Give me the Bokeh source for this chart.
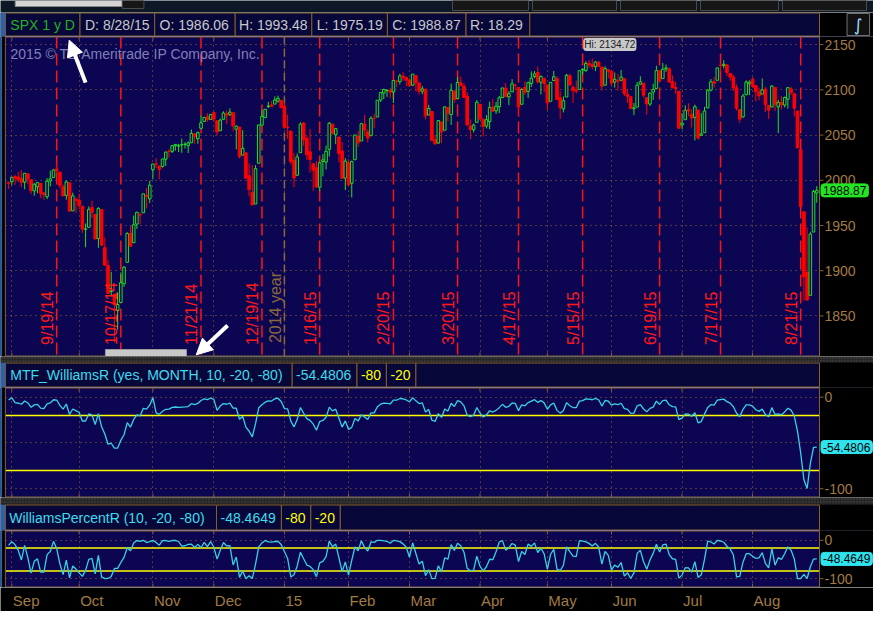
import math
from bokeh.plotting import figure
from bokeh.layouts import column
from bokeh.models import Range1d, ColumnDataSource, Label, Span, Arrow, NormalHead, FixedTicker, Grid
from bokeh.core.properties import value
from bokeh.embed import file_html
from bokeh.resources import INLINE

# ---------------- data (SPX daily, 8/28/14 .. 8/28/15) ----------------
OPEN = [1997.4, 1998.5,
    2004.1, 2003.6, 2001.7, 1998.0, 2007.2, 2000.7, 1988.4, 1992.9, 1996.7, 1986.0, 1981.9, 1999.3, 2003.1, 2012.7, 2009.1, 1992.8, 1983.3, 1997.3, 1966.2, 1978.9, 1978.2,
    1971.4, 1945.8, 1948.1, 1970.0, 1962.4, 1935.6, 1967.7, 1925.6, 1905.7, 1877.1, 1874.2, 1856.0, 1864.9, 1885.6, 1909.4, 1941.3, 1931.0, 1951.6, 1962.0, 1964.1, 1983.3, 1979.5, 2011.7,
    2018.2, 2015.8, 2015.3, 2023.3, 2032.0, 2032.0, 2038.2, 2037.8, 2039.2, 2039.7, 2038.3, 2041.5, 2051.2, 2045.9, 2057.5, 2065.1, 2070.2, 2067.4, 2074.8,
    2065.8, 2054.8, 2067.5, 2073.6, 2072.8, 2074.8, 2056.6, 2058.9, 2027.9, 2030.4, 2005.0, 1986.7, 1973.8, 2018.9, 2061.0, 2069.3, 2081.5, 2083.3, 2084.3, 2087.6, 2088.5, 2082.1,
    2058.9, 2054.4, 2022.2, 2005.6, 2030.6, 2063.5, 2046.1, 2031.6, 2018.4, 2013.8, 1992.3, 2020.8, 2020.2, 2034.3, 2062.0, 2050.4, 2047.9, 2032.3, 2002.5, 2019.4,
    1996.7, 2022.7, 2048.9, 2043.5, 2062.3, 2053.5, 2049.4, 2068.6, 2070.0, 2088.8, 2096.5, 2099.2, 2099.3, 2097.7, 2109.8, 2109.1, 2115.3, 2113.9, 2110.9,
    2105.2, 2115.8, 2107.7, 2098.5, 2100.9, 2072.2, 2076.1, 2044.7, 2041.1, 2064.6, 2055.4, 2080.6, 2072.8, 2098.7, 2090.3, 2107.9, 2103.9, 2093.1, 2059.9, 2055.8, 2064.1, 2084.1,
    2067.6, 2060.0, 2064.9, 2080.8, 2076.9, 2081.3, 2091.5, 2102.0, 2092.3, 2097.8, 2105.0, 2102.6, 2084.1, 2102.8, 2098.3, 2107.2, 2114.8, 2119.3, 2108.4, 2112.5, 2105.5,
    2087.4, 2110.2, 2112.6, 2091.3, 2079.0, 2092.1, 2115.6, 2102.9, 2099.6, 2100.4, 2122.1, 2121.3, 2129.5, 2127.8, 2125.6, 2130.4, 2125.3, 2105.1, 2122.3, 2120.7,
    2108.6, 2110.4, 2110.6, 2112.4, 2095.1, 2092.3, 2079.1, 2081.0, 2106.2, 2107.4, 2091.3, 2084.3, 2097.4, 2101.6, 2121.1, 2112.5, 2123.2, 2123.2, 2109.1, 2102.6, 2098.6, 2061.2,
    2067.0, 2078.0, 2073.0, 2069.5, 2077.7, 2049.7, 2052.7, 2080.0, 2099.7, 2109.0, 2110.6, 2126.8, 2126.9, 2127.6, 2118.2, 2114.2, 2102.2, 2078.2, 2070.1, 2094.7, 2106.8, 2111.6,
    2104.5, 2097.7, 2095.3, 2100.9, 2082.6, 2081.0, 2102.7, 2081.1, 2086.2, 2083.2, 2089.7, 2101.1, 2095.7, 2076.6, 2034.1, 1965.2, 1898.1, 1872.8, 1942.8, 1986.06]

HIGH = [1998.6, 2003.4,
    2006.1, 2009.3, 2011.2, 2007.7, 2007.2, 2001.0, 1996.7, 1997.7, 1996.7, 1987.2, 2002.3, 2010.7, 2012.3, 2019.3, 2009.1, 1995.4, 1999.8, 1997.3, 1986.4, 1981.3, 1985.2,
    1971.4, 1952.3, 1971.2, 1977.4, 1962.4, 1970.4, 1967.7, 1936.9, 1912.1, 1898.7, 1874.2, 1876.0, 1898.2, 1905.0, 1942.5, 1949.3, 1961.0, 1965.3, 1964.6, 1985.1, 1991.4, 1999.4, 2018.2,
    2024.5, 2015.9, 2023.8, 2031.6, 2034.3, 2038.7, 2039.7, 2040.3, 2046.2, 2042.2, 2043.1, 2056.1, 2052.1, 2053.8, 2071.5, 2070.2, 2074.2, 2073.3, 2075.8,
    2065.8, 2068.2, 2076.3, 2077.3, 2079.5, 2075.0, 2060.6, 2058.9, 2055.5, 2030.4, 2018.7, 2016.9, 2016.8, 2061.2, 2077.9, 2078.8, 2086.7, 2087.6, 2092.7, 2093.6, 2088.5, 2085.7,
    2072.4, 2054.4, 2030.3, 2029.6, 2064.1, 2064.4, 2049.3, 2056.9, 2018.4, 2021.4, 2020.5, 2028.9, 2038.3, 2064.6, 2062.8, 2057.6, 2047.9, 2042.5, 2024.6, 2023.3,
    2021.7, 2050.3, 2054.7, 2063.6, 2072.4, 2056.2, 2070.9, 2073.5, 2088.5, 2097.0, 2101.3, 2100.2, 2102.1, 2110.6, 2110.1, 2117.9, 2119.6, 2113.9, 2112.7,
    2117.5, 2115.8, 2107.7, 2104.3, 2100.9, 2083.5, 2076.1, 2050.1, 2066.4, 2064.6, 2081.4, 2080.6, 2106.9, 2098.7, 2113.9, 2114.9, 2107.6, 2097.4, 2067.2, 2062.8, 2088.9, 2084.1,
    2067.6, 2072.2, 2086.9, 2089.8, 2086.7, 2093.3, 2102.6, 2107.6, 2098.6, 2111.9, 2107.0, 2102.6, 2101.9, 2109.6, 2109.0, 2120.5, 2120.9, 2125.9, 2116.0, 2113.7, 2105.5,
    2108.4, 2120.9, 2115.2, 2098.4, 2092.9, 2117.7, 2117.7, 2105.1, 2110.2, 2121.5, 2123.9, 2131.8, 2133.0, 2134.72, 2131.8, 2132.2, 2125.3, 2126.2, 2122.3, 2120.7,
    2119.2, 2117.6, 2121.9, 2112.9, 2101.0, 2093.0, 2085.6, 2108.5, 2115.0, 2107.4, 2091.3, 2097.4, 2106.8, 2126.7, 2121.6, 2129.9, 2128.0, 2125.1, 2116.0, 2108.9, 2098.6, 2074.3,
    2082.8, 2085.1, 2078.6, 2083.7, 2077.7, 2074.3, 2081.3, 2100.7, 2112.0, 2114.1, 2124.4, 2128.1, 2132.8, 2128.5, 2118.5, 2116.9, 2106.0, 2078.2, 2095.6, 2110.6, 2110.5, 2114.2,
    2105.7, 2102.5, 2112.7, 2103.3, 2082.6, 2105.4, 2102.7, 2089.1, 2092.9, 2092.5, 2102.9, 2103.5, 2096.2, 2076.6, 2034.1, 1965.2, 1948.0, 1943.1, 1989.6, 1993.48]

LOW = [1990.5, 1994.6,
    1994.9, 1998.1, 1992.5, 1990.1, 1995.6, 1984.6, 1982.9, 1985.9, 1980.3, 1978.5, 1979.1, 1993.3, 2003.1, 2006.6, 1991.0, 1982.8, 1978.6, 1965.0, 1966.2, 1964.0, 1968.0,
    1941.7, 1926.0, 1948.1, 1958.4, 1935.1, 1925.3, 1927.6, 1906.1, 1874.1, 1871.8, 1820.66, 1835.0, 1864.9, 1882.3, 1909.4, 1926.8, 1931.0, 1946.3, 1951.4, 1964.1, 1969.0, 1974.8, 2001.0,
    2013.7, 2001.0, 2014.0, 2015.9, 2025.1, 2030.2, 2032.7, 2031.3, 2030.4, 2035.2, 2030.2, 2041.5, 2040.4, 2040.5, 2056.8, 2065.1, 2064.8, 2066.6, 2065.1,
    2049.6, 2054.8, 2066.6, 2062.3, 2070.8, 2054.3, 2034.2, 2024.3, 2027.9, 2002.3, 1982.3, 1972.6, 1973.8, 2018.9, 2061.0, 2069.3, 2079.8, 2081.9, 2084.3, 2085.8, 2079.5, 2057.9,
    2046.0, 2017.3, 1992.4, 2005.6, 2030.6, 2038.3, 2022.6, 2008.3, 1988.4, 1991.5, 1988.1, 2004.5, 2012.0, 2026.4, 2050.5, 2040.0, 2019.9, 2001.5, 1989.2, 1993.4,
    1980.9, 2022.7, 2036.7, 2043.5, 2049.0, 2041.9, 2048.6, 2057.9, 2070.0, 2086.7, 2089.8, 2092.2, 2090.8, 2085.4, 2103.0, 2105.9, 2109.9, 2103.8, 2103.8,
    2104.5, 2098.3, 2094.5, 2095.2, 2067.3, 2072.2, 2044.2, 2039.7, 2041.1, 2041.2, 2055.4, 2065.1, 2061.2, 2085.6, 2090.3, 2104.4, 2091.5, 2061.1, 2045.5, 2052.9, 2064.1, 2067.0,
    2048.4, 2057.3, 2056.5, 2076.1, 2073.3, 2074.3, 2091.5, 2092.3, 2083.2, 2097.8, 2100.1, 2072.4, 2084.1, 2094.4, 2091.1, 2103.2, 2112.8, 2107.0, 2094.9, 2097.4, 2077.6,
    2087.4, 2110.2, 2088.5, 2067.9, 2075.0, 2092.1, 2104.6, 2085.6, 2096.0, 2100.4, 2116.8, 2120.0, 2124.5, 2122.6, 2120.9, 2126.1, 2099.2, 2105.1, 2112.9, 2104.9,
    2102.5, 2099.1, 2109.6, 2093.2, 2085.7, 2079.1, 2072.1, 2081.0, 2106.2, 2091.3, 2072.5, 2082.1, 2088.9, 2101.6, 2109.5, 2112.5, 2119.9, 2108.6, 2101.8, 2095.4, 2056.6, 2056.3,
    2067.0, 2071.0, 2058.4, 2044.0, 2044.7, 2049.7, 2052.7, 2080.0, 2098.2, 2102.5, 2110.6, 2119.9, 2123.7, 2115.4, 2110.0, 2098.6, 2077.1, 2063.5, 2069.1, 2094.1, 2094.1, 2102.1,
    2087.3, 2088.6, 2095.3, 2075.5, 2067.9, 2081.0, 2076.5, 2052.1, 2078.3, 2080.6, 2079.3, 2094.1, 2070.5, 2035.7, 1970.9, 1867.0, 1867.1, 1872.8, 1942.8, 1975.19]

CLOSE = [1996.74, 2003.37,
    2002.28, 2000.72, 1997.65, 2007.71, 2001.54, 1988.44, 1995.69, 1997.45, 1985.54, 1984.13, 1998.98, 2001.57, 2011.36, 2010.40, 1994.29, 1982.77, 1998.30, 1965.99, 1982.85, 1977.80, 1972.29,
    1946.16, 1946.17, 1967.90, 1964.82, 1935.10, 1968.89, 1928.21, 1906.13, 1874.74, 1877.70, 1862.49, 1862.76, 1886.76, 1904.01, 1941.28, 1927.11, 1950.82, 1964.58, 1961.63, 1985.05, 1982.30, 1994.65, 2018.05,
    2017.81, 2012.10, 2023.57, 2031.21, 2031.92, 2038.26, 2039.68, 2038.25, 2039.33, 2039.82, 2041.32, 2051.80, 2048.72, 2052.75, 2063.50, 2069.41, 2067.03, 2072.83, 2067.56,
    2053.44, 2066.55, 2074.33, 2071.92, 2075.37, 2060.31, 2059.82, 2026.14, 2035.33, 2002.33, 1989.63, 1972.74, 2012.89, 2061.23, 2070.65, 2078.54, 2082.17, 2081.88, 2088.77, 2090.57, 2080.35, 2058.90,
    2058.20, 2020.58, 2002.61, 2025.90, 2062.14, 2044.81, 2028.26, 2023.03, 2011.27, 1992.67, 2019.42, 2022.55, 2032.12, 2063.15, 2051.82, 2057.09, 2029.55, 2002.16, 2021.25, 1994.99,
    2020.85, 2050.03, 2041.51, 2062.52, 2055.47, 2046.74, 2068.59, 2068.53, 2088.48, 2096.99, 2100.34, 2099.68, 2097.45, 2110.30, 2109.66, 2115.48, 2113.86, 2110.74, 2104.50,
    2117.39, 2107.78, 2098.53, 2101.04, 2071.26, 2079.43, 2044.16, 2040.24, 2065.95, 2053.40, 2081.19, 2074.28, 2099.50, 2089.27, 2108.10, 2104.42, 2091.50, 2061.05, 2056.15, 2061.02, 2086.24, 2067.89,
    2059.69, 2066.96, 2080.62, 2076.33, 2081.90, 2091.18, 2102.06, 2092.43, 2095.84, 2106.63, 2104.99, 2081.18, 2100.40, 2097.29, 2107.96, 2112.93, 2117.69, 2108.92, 2114.76, 2106.85, 2085.51,
    2108.29, 2114.49, 2089.46, 2080.15, 2088.00, 2116.10, 2105.33, 2099.12, 2098.48, 2121.10, 2122.73, 2129.20, 2127.83, 2125.85, 2130.82, 2126.06, 2104.20, 2123.48, 2120.79, 2107.39,
    2111.73, 2109.60, 2114.07, 2095.84, 2092.83, 2079.28, 2080.15, 2105.20, 2108.86, 2094.11, 2084.43, 2096.29, 2100.44, 2121.24, 2109.99, 2122.85, 2124.20, 2108.58, 2102.31, 2101.49, 2057.64, 2063.11,
    2077.42, 2076.78, 2068.76, 2081.34, 2046.68, 2051.31, 2076.62, 2099.60, 2108.95, 2107.40, 2124.29, 2126.64, 2128.28, 2119.21, 2114.15, 2102.15, 2079.65, 2067.64, 2093.25, 2108.57, 2108.63, 2103.84,
    2098.04, 2093.32, 2099.84, 2083.56, 2077.57, 2104.18, 2084.07, 2086.05, 2083.39, 2091.54, 2102.44, 2096.92, 2079.61, 2035.73, 1970.89, 1893.21, 1867.61, 1940.51, 1987.66, 1988.87]

MTF_WR = [-3.1, -0.6,
    -6.0, -6.6, -7.7, -4.1, -6.3, -11.0, -8.4, -7.8, -12.0, -12.5, -7.2, -6.3, -2.8, -3.1, -8.9, -13.0, -7.4, -18.9, -12.9, -14.7, -16.7,
    -26.0, -26.0, -18.3, -19.3, -29.9, -17.9, -32.4, -40.2, -51.4, -50.3, -55.7, -55.6, -47.1, -41.0, -27.7, -32.8, -24.3, -19.4, -20.5, -12.2, -13.1, -8.7, -0.4,
    -17.2, -18.8, -15.4, -13.2, -13.0, -11.1, -10.7, -11.1, -10.8, -10.6, -10.2, -7.1, -8.0, -6.8, -3.6, -1.9, -2.6, -0.9, -2.4,
    -14.4, -9.7, -6.9, -7.7, -6.5, -11.9, -12.1, -24.1, -20.9, -32.7, -37.2, -43.3, -28.9, -11.6, -8.2, -5.4, -4.1, -4.2, -1.7, -1.1, -4.7, -12.4,
    -12.7, -26.1, -32.6, -24.2, -11.3, -17.5, -23.4, -25.3, -29.5, -36.1, -26.6, -25.4, -22.0, -10.9, -14.9, -13.1, -22.9, -32.7, -25.9, -35.3,
    -33.0, -23.3, -26.1, -19.1, -21.5, -24.4, -17.1, -17.1, -10.4, -7.6, -6.4, -6.7, -7.4, -3.1, -3.3, -1.4, -1.9, -3.0, -5.0,
    -0.7, -4.0, -7.0, -6.2, -16.2, -13.4, -25.2, -26.5, -17.9, -22.1, -12.8, -15.2, -6.7, -10.1, -3.8, -5.1, -9.4, -19.6, -21.2, -19.6, -11.2, -17.3,
    -21.7, -19.3, -14.8, -16.2, -14.4, -11.4, -7.8, -11.0, -9.9, -6.3, -6.9, -14.7, -8.4, -9.4, -5.9, -4.3, -2.7, -5.6, -3.7, -6.2, -13.2,
    -8.4, -6.4, -14.4, -17.4, -14.9, -5.9, -9.4, -11.3, -11.5, -4.3, -3.8, -1.8, -2.2, -2.8, -1.2, -2.8, -9.7, -3.6, -4.4, -8.7,
    -7.3, -8.0, -6.6, -12.4, -13.3, -17.7, -17.4, -9.4, -8.2, -12.9, -16.0, -12.2, -10.9, -4.3, -7.9, -3.8, -3.3, -8.3, -10.3, -10.6, -24.5, -22.8,
    -18.2, -18.4, -21.0, -17.0, -28.0, -26.6, -18.5, -11.2, -8.2, -8.7, -3.3, -2.6, -2.1, -4.9, -6.5, -10.4, -17.5, -21.4, -13.2, -8.3, -8.3, -9.8,
    -13.7, -15.5, -13.0, -19.1, -21.3, -11.4, -18.9, -18.2, -19.2, -16.1, -12.1, -14.1, -20.6, -37.0, -61.2, -90.2, -99.8, -72.5, -54.9, -54.48]

WPR = [-13.1, -3.5,
    -11.2, -26.3, -51.3, -13.3, -46.0, -85.7, -54.8, -48.4, -83.2, -82.9, -37.3, -29.4, -2.7, -21.8, -61.3, -89.5, -51.5, -98.2, -67.0, -75.0, -85.0,
    -94.2, -78.3, -49.6, -47.4, -87.7, -39.4, -95.3, -100.0, -99.5, -94.4, -73.3, -73.1, -57.8, -44.4, -19.4, -27.6, -7.3, -0.5, -2.6, 0.0, -5.8, -3.5, -0.1,
    -5.8, -12.7, -1.0, -0.5, -2.9, -0.5, 0.0, -3.1, -15.3, -14.2, -10.8, -10.2, -18.4, -10.6, -19.4, -5.1, -16.4, -3.2, -18.0,
    -49.1, -26.0, -5.6, -14.7, -13.7, -64.2, -43.5, -96.7, -80.1, -100.0, -92.5, -99.9, -62.3, -17.1, -6.8, -0.3, -3.9, -5.0, -3.2, -2.5, -10.9, -29.0,
    -47.4, -95.7, -89.9, -66.9, -31.1, -48.2, -64.5, -68.2, -76.5, -94.9, -59.0, -54.8, -42.3, -1.8, -16.7, -9.8, -45.8, -81.6, -56.6, -91.0,
    -52.2, -17.4, -27.6, -1.3, -18.5, -28.1, -4.2, -5.4, 0.0, 0.0, -1.3, -2.5, -7.6, -0.4, -1.3, -3.5, -9.2, -17.9, -44.2,
    -6.4, -34.5, -61.7, -54.4, -92.4, -76.9, -100.0, -99.4, -66.2, -82.4, -45.5, -49.1, -11.0, -26.2, -7.8, -14.0, -31.1, -72.9, -79.6, -77.7, -41.4, -67.7,
    -79.5, -69.0, -49.4, -50.4, -29.9, -4.4, -0.9, -25.7, -19.9, -8.3, -12.5, -55.4, -29.1, -37.0, -9.9, -15.8, -6.6, -31.8, -20.7, -35.5, -75.5,
    -36.4, -23.6, -75.4, -78.8, -65.3, -16.9, -29.4, -41.1, -42.3, -0.7, -2.1, -4.1, -8.0, -14.7, -7.9, -17.5, -62.1, -28.9, -39.2, -76.9,
    -64.8, -70.5, -57.9, -93.3, -84.7, -99.6, -85.0, -34.1, -26.1, -55.8, -75.3, -51.4, -34.0, -10.1, -30.6, -12.1, -9.9, -37.1, -48.1, -49.5, -98.6, -90.8,
    -71.3, -72.1, -83.0, -55.6, -96.7, -89.9, -49.8, -1.9, -4.4, -9.6, -0.1, -1.8, -5.1, -15.4, -22.4, -38.2, -95.3, -94.1, -57.0, -34.9, -34.9, -41.8,
    -46.9, -45.8, -32.0, -60.4, -72.2, -21.6, -65.0, -45.2, -49.6, -35.0, -17.0, -26.1, -48.4, -100.0, -100.0, -88.9, -99.7, -68.9, -49.0, -48.46]

MONTH_TICKS = [1, 22, 45, 64, 86, 106, 125, 147, 168, 188, 210, 232]
MONTH_LABELS = ["Sep", "Oct", "Nov", "Dec", "15", "Feb", "Mar", "Apr", "May", "Jun", "Jul", "Aug"]
EXP_IDX = [15, 35, 60, 79, 97, 120, 140, 159, 179, 203, 222, 247]
EXP_LABELS = ["9/19/14", "10/17/14", "11/21/14", "12/19/14", "1/16/15", "2/20/15",
              "3/20/15", "4/17/15", "5/15/15", "6/19/15", "7/17/15", "8/21/15"]
YEAR_IDX = 86
YEAR_LABEL = "2014 year"
PRICE_TICKS = [1850, 1900, 1950, 2000, 2050, 2100, 2150]
IND_TICKS = [0, -100]
WR_GRID = [0, -50, -100]
LEVELS = [-20, -80]
SYMBOL = "SPX"
LAST_DATE = "8/28/15"
MTF_LAST = -54.4806
WPR_LAST = -48.4649

# ---------------- styles / layout ----------------
PLOT_BG = "#0c0552"
HDR_BG = "#07073a"
BROWN = "#86602c"
LBROWN = "#a27a44"
GRIDC = "#9a6d28"
GREEN = "#1fe01f"
RED = "#ff0000"
CYAN = "#38d2e2"
CYAN_T = "#3edcec"
YELLOW = "#ffff00"
FONT = "Liberation Sans"

W = 873
PX_L, PX_R = 4.9, 819.0          # pixel edges of the plotting area
X0, XR = -1.0, 252.86             # bar positions at those edges
PPB = (PX_R - PX_L) / (XR - X0)   # pixels per bar
XS = X0 - PX_L / PPB
XE = XR + (W - PX_R) / PPB
xr = Range1d(XS, XE)
N = len(CLOSE)
IDX = list(range(N))


def panel(h, y0, y1, hgrid):
    p = figure(width=W, height=h, x_range=xr, y_range=Range1d(y0, y1),
               toolbar_location=None, output_backend="svg", min_border=0,
               x_axis_location=None, y_axis_location=None,
               background_fill_color=PLOT_BG, border_fill_color="black",
               outline_line_color=None)
    p.grid.visible = False
    p.add_layout(Grid(dimension=0, ticker=FixedTicker(ticks=MONTH_TICKS),
                      grid_line_color=GRIDC, grid_line_dash="1 4", grid_line_width=1))
    p.add_layout(Grid(dimension=1, ticker=FixedTicker(ticks=hgrid),
                      grid_line_color=GRIDC, grid_line_dash="1 4", grid_line_width=1))
    p.quad(left=[XR], right=[XE + 5], bottom=[y0 - 1000], top=[y1 + 1000],
           fill_color="black", line_color=None)
    p.quad(left=[XS - 5], right=[X0], bottom=[y0 - 1000], top=[y1 + 1000],
           fill_color="black", line_color=None)
    p.quad(left=[XS - 5], right=[XS + 1.6 / PPB], bottom=[y0 - 1000], top=[y1 + 1000],
           fill_color="#2a62b0", line_color=None)
    u = (y1 - y0) / h
    n = len(MONTH_TICKS)
    p.segment(x0=MONTH_TICKS, x1=MONTH_TICKS, y0=[y0] * n, y1=[y0 + 4 * u] * n, line_color=BROWN)
    p.segment(x0=MONTH_TICKS, x1=MONTH_TICKS, y0=[y1] * n, y1=[y1 - 4 * u] * n, line_color=BROWN)
    p.segment(x0=[X0, XR], x1=[X0, XR], y0=[y0, y0], y1=[y1, y1], line_color=BROWN)
    p.segment(x0=[X0, X0], x1=[XR, XR], y0=[y0 + 0.5 * u, y1 - 0.5 * u],
              y1=[y0 + 0.5 * u, y1 - 0.5 * u], line_color=BROWN)
    return p


def right_scale(p, ticks, labels):
    n = len(ticks)
    p.segment(x0=[XR] * n, x1=[XR + 4 / PPB] * n, y0=ticks, y1=ticks, line_color=BROWN)
    p.text(x=[XR + 5 / PPB] * n, y=ticks, text=labels, text_align="left", text_baseline="middle",
           text_color=LBROWN, text_font_size="14px", text_font=value(FONT))


def badge(p, y, txt, bg):
    p.add_layout(Label(x=XR + 1.5 / PPB, y=y, text=txt, text_align="left", text_baseline="middle",
                       text_color="black", text_font_size="12px", text_font=FONT,
                       background_fill_color=bg, background_fill_alpha=1.0,
                       border_line_color=bg, padding=2, border_radius=3))


def plain_fig(h, bg="black"):
    f = figure(width=W, height=h, x_range=Range1d(0, W), y_range=Range1d(0, h),
               toolbar_location=None, output_backend="svg", min_border=0,
               x_axis_location=None, y_axis_location=None,
               background_fill_color=bg, border_fill_color=bg, outline_line_color=None)
    f.grid.visible = False
    return f


def header(h, sep, boxes, xs, texts, colors):
    f = plain_fig(h)
    hb = h - sep
    if sep:
        f.quad(left=[0], right=[W], bottom=[hb], top=[h], fill_color="#262626", line_color=None,
               hatch_pattern="dot", hatch_color="#4a4a4a", hatch_scale=3)
    f.quad(left=[0], right=[PX_L], bottom=[0], top=[hb], fill_color="#2a62b0", line_color=None)
    f.quad(left=boxes[:-1], right=boxes[1:], bottom=[0.5] * (len(boxes) - 1),
           top=[hb - 0.5] * (len(boxes) - 1), fill_color=HDR_BG, line_color=BROWN, line_width=1)
    f.text(x=xs, y=[hb / 2] * len(xs), text=texts, text_color=colors, text_baseline="middle",
           text_align="left", text_font_size="14px", text_font=value(FONT))
    return f


# ---------------- toolbar strip ----------------
tb = plain_fig(12, bg="#0d1826")
tb.quad(left=[14.7], right=[121.8], bottom=[6], top=[12], fill_color="#d4d4d4", line_color="#888888")
tb.quad(left=[121.8, 452, 532, 620, 700, 782], right=[143.4, 528, 616, 696, 778, 866],
        bottom=[4, 2, 2, 2, 2, 2], top=[12, 12, 12, 12, 12, 12],
        fill_color="#161616", line_color="#4a4a4a")

# ---------------- header 1 ----------------
hdr1_texts = [f"{SYMBOL} 1 y D", f"D: {LAST_DATE}", f"O: {OPEN[-1]:.2f}", f"H: {HIGH[-1]:.2f}",
              f"L: {LOW[-1]:.2f}", f"C: {CLOSE[-1]:.2f}", f"R: {HIGH[-1] - LOW[-1]:.2f}"]
hdr1 = header(24, 0, [PX_L, 79.5, 154.2, 234.7, 311.3, 386.9, 465.5, 529.3, PX_R],
              [9.8, 84.5, 159.1, 238.6, 316.2, 391.8, 469.4], hdr1_texts,
              ["#1fb41f"] + ["#c8c8c8"] * 6)
hdr1.quad(left=[846.5], right=[869.1], bottom=[1], top=[23], fill_color="#101010", line_color="#707070")
hdr1.text(x=[857.8], y=[12], text=["∫"], text_align="center", text_baseline="middle",
          text_color="#9fdcff", text_font_size="17px", text_font=value("DejaVu Sans"))

# ---------------- price panel ----------------
PY0, PY1 = 1805.2, 2159.0
PH = 320
price = panel(PH, PY0, PY1, PRICE_TICKS)
for e in EXP_IDX:
    price.add_layout(Span(location=e, dimension="height", line_color="#ff1414",
                          line_dash="12 5", line_width=1.5, level="underlay"))
price.add_layout(Span(location=YEAR_IDX, dimension="height", line_color="#8a6a3a",
                      line_dash="8 4", line_width=1.5, level="underlay"))

col = [GREEN if c >= o else RED for o, c in zip(OPEN, CLOSE)]
fill = [PLOT_BG if c >= o else RED for o, c in zip(OPEN, CLOSE)]
src = ColumnDataSource(dict(x=IDX, o=OPEN, h=HIGH, l=LOW, c=CLOSE,
                            top=[max(o, c) for o, c in zip(OPEN, CLOSE)],
                            bot=[min(o, c) for o, c in zip(OPEN, CLOSE)],
                            col=col, fill=fill))
price.segment(x0="x", y0="l", x1="x", y1="h", line_color="col", line_width=1, source=src)
price.vbar(x="x", width=0.8, top="top", bottom="bot", fill_color="fill", line_color="col",
           line_width=1, source=src)

price.text(x=[e - 9.5 / PPB for e in EXP_IDX], y=[1818] * len(EXP_IDX), text=EXP_LABELS,
           angle=math.pi / 2, text_align="left", text_baseline="middle",
           text_color="#ff1a1a", text_font_size="16px", text_font=value(FONT))
price.text(x=[YEAR_IDX - 9 / PPB], y=[1820], text=[YEAR_LABEL], angle=math.pi / 2,
           text_align="left", text_baseline="middle", text_color="#8a6a3a",
           text_font_size="16px", text_font=value(FONT))

right_scale(price, PRICE_TICKS, [str(t) for t in PRICE_TICKS])
badge(price, CLOSE[-1], f"{CLOSE[-1]:.2f}", "#22e622")

price.add_layout(Label(x=X0 + 5 / PPB, y=2139.5, text="2015 © TD Ameritrade IP Company, Inc.",
                       text_color="#8080b4", text_font_size="14px", text_font=FONT,
                       text_baseline="middle"))
hi_i = HIGH.index(max(HIGH))
lo_i = LOW.index(min(LOW))
upx = (PY1 - PY0) / PH
price.add_layout(Label(x=hi_i - 9 / PPB, y=PY1 - 1.5 * upx, text=f"Hi: {max(HIGH):.2f}",
                       text_color="#202020", text_font_size="10px", text_font=FONT,
                       text_baseline="top", background_fill_color="#c8c8c8",
                       background_fill_alpha=1.0, padding=1, border_radius=3))
price.quad(left=[lo_i - 9 / PPB], right=[lo_i + 72 / PPB], bottom=[PY0 - 10], top=[PY0 + 7 * upx],
           fill_color="#c8c8c8", line_color="#9a9a9a")
price.add_layout(Arrow(end=NormalHead(size=16, fill_color="white", line_color="white"),
                       x_start=24.0, y_start=2108.0, x_end=18.9, y_end=2155.0,
                       line_color="white", line_width=4))
price.add_layout(Arrow(end=NormalHead(size=16, fill_color="white", line_color="white"),
                       x_start=68.3, y_start=1839.5, x_end=58.5, y_end=1807.0,
                       line_color="white", line_width=4))

# ---------------- MTF Williams %R ----------------
hdr2 = header(31, 6, [PX_L, 291.7, 356.5, 385.9, 415.4, PX_R], [9.8, 295.6, 360.4, 389.9],
              ["MTF_WilliamsR (yes, MONTH, 10, -20, -80)", f"{MTF_LAST:.4f}",
               str(LEVELS[1]), str(LEVELS[0])],
              [CYAN_T, CYAN_T, YELLOW, YELLOW])
WY0, WY1 = -109.6, 10.6
wr = panel(110, WY0, WY1, WR_GRID)
for lv in LEVELS:
    wr.add_layout(Span(location=lv, dimension="width", line_color=YELLOW, line_width=1.5,
                       level="underlay"))
wr.quad(left=[XR], right=[XE + 5], bottom=[-1000], top=[1000], fill_color="black", line_color=None)
wr.segment(x0=[XR], x1=[XR], y0=[WY0], y1=[WY1], line_color=BROWN)
wr.line(IDX, MTF_WR, line_color=CYAN, line_width=1.3)
right_scale(wr, IND_TICKS, [str(t) for t in IND_TICKS])
badge(wr, MTF_LAST, f"{MTF_LAST:.4f}", "#2fe4ef")

# ---------------- Williams %R ----------------
hdr3 = header(33, 7, [PX_L, 216.0, 280.9, 310.3, 339.8, PX_R], [8.8, 220.0, 284.8, 314.2],
              ["WilliamsPercentR (10, -20, -80)", f"{WPR_LAST:.4f}",
               str(LEVELS[1]), str(LEVELS[0])],
              [CYAN_T, CYAN_T, YELLOW, YELLOW])
RY0, RY1 = -123.1, 25.6
wpr = panel(57, RY0, RY1, IND_TICKS)
for lv in LEVELS:
    wpr.add_layout(Span(location=lv, dimension="width", line_color=YELLOW, line_width=1.5,
                        level="underlay"))
wpr.quad(left=[XR], right=[XE + 5], bottom=[-1000], top=[1000], fill_color="black", line_color=None)
wpr.segment(x0=[XR], x1=[XR], y0=[RY0], y1=[RY1], line_color=BROWN)
wpr.line(IDX, WPR, line_color=CYAN, line_width=1.3)
right_scale(wpr, IND_TICKS, [str(t) for t in IND_TICKS])
badge(wpr, WPR_LAST, f"{WPR_LAST:.4f}", "#2fe4ef")

# ---------------- month axis ----------------
ax = figure(width=W, height=24, x_range=xr, y_range=Range1d(0, 24),
            toolbar_location=None, output_backend="svg", min_border=0,
            x_axis_location=None, y_axis_location=None,
            background_fill_color="black", border_fill_color="black", outline_line_color=None)
ax.grid.visible = False
ax.text(x=[t + 1 / PPB for t in MONTH_TICKS], y=[11] * len(MONTH_TICKS), text=MONTH_LABELS,
        text_align="left", text_baseline="middle", text_color=LBROWN,
        text_font_size="15px", text_font=value(FONT))

p = column(tb, hdr1, price, hdr2, wr, hdr3, wpr, ax, spacing=0)
open("out.html", "w").write(file_html(p, INLINE))
